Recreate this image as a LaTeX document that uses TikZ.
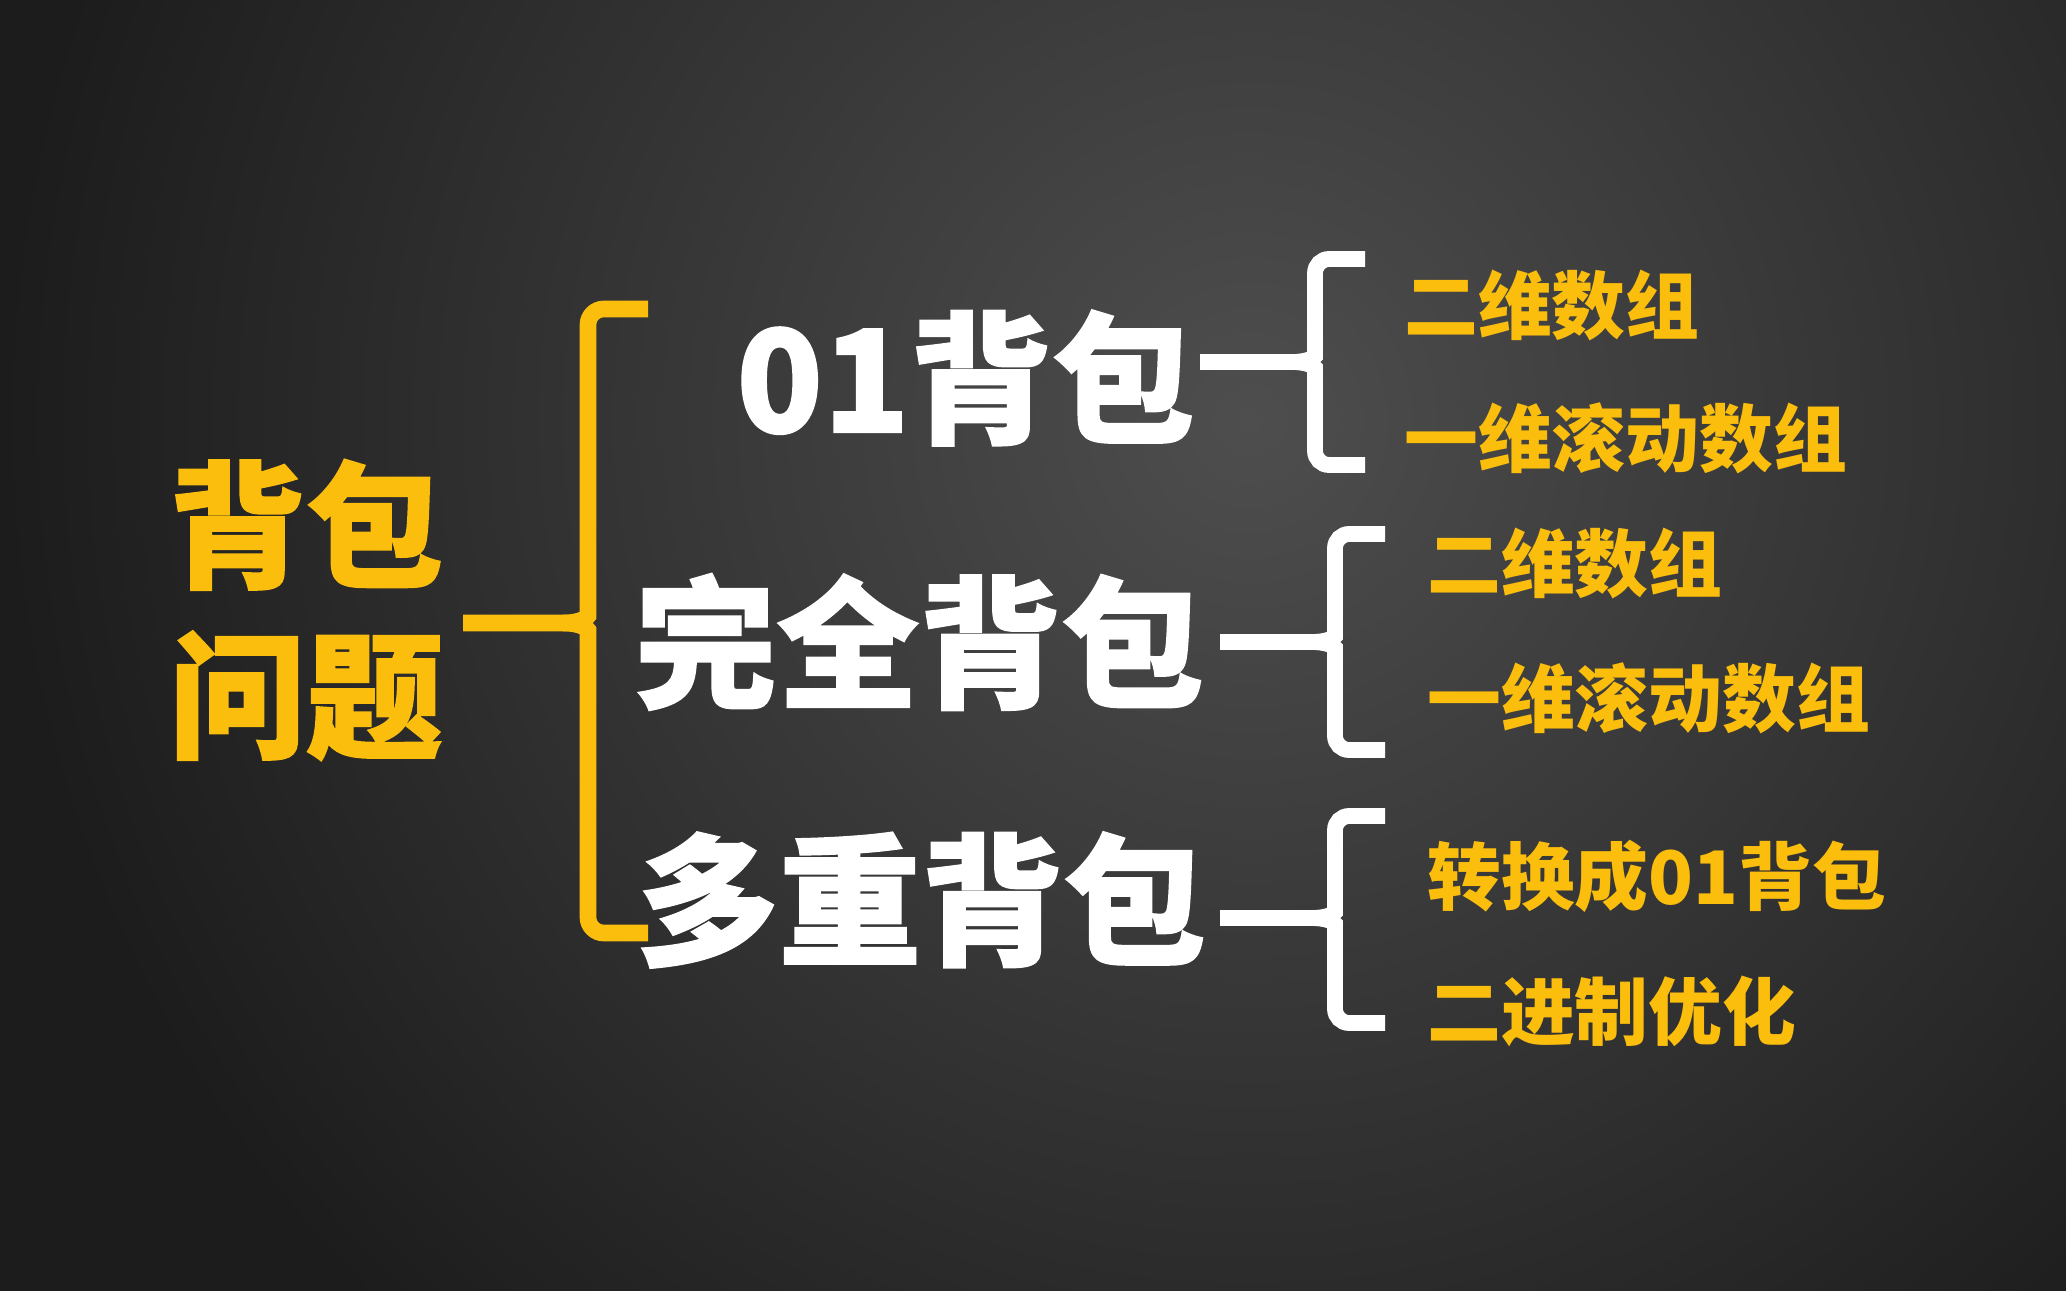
\documentclass[tikz,border=0pt]{standalone}
\usepackage{fontspec}
\usetikzlibrary{positioning}
\newfontfamily\cjk{Noto Sans CJK SC}[BoldFeatures={FakeBold=1.2}]
\newfontfamily\cjklight{Noto Sans CJK SC}
\definecolor{chalkyellow}{RGB}{251,190,12}
\definecolor{boardlight}{RGB}{78,78,78}
\definecolor{boarddark}{RGB}{28,28,28}
\begin{document}
\begin{tikzpicture}[x=0.02cm, y=-0.02cm,
        topic/.style = {text=chalkyellow, inner sep=0pt, align=center,
            font=\cjk\bfseries\fontsize{78pt}{97pt}\selectfont},
        kind/.style = {text=white, inner sep=0pt, anchor=west,
            font=\cjk\bfseries\fontsize{81pt}{81pt}\selectfont},
        way/.style = {text=chalkyellow, inner sep=0pt, anchor=west,
            font=\cjklight\bfseries\fontsize{42pt}{42pt}\selectfont},
        bigbrace/.style = {draw=chalkyellow, line width=9.5pt},
        subbrace/.style = {draw=white, line width=9pt}]
            \useasboundingbox (0,0) rectangle (2066,1291);
            \begin{scope}
                \clip (0,0) rectangle (2066,1291);
                \fill[boarddark] (0,0) rectangle (2066,1291);
                \shade[inner color=boardlight, outer color=boarddark] (1250,420) circle (1250);
            \end{scope}

            \node[topic] (bag) at (306,610) {背包\\问题};

            \node[kind] (zo) at (736,378) {01背包};
            \node[kind] (full) at (634,642) {完全背包};
            \node[kind] (multi) at (636,900) {多重背包};

            \node[way] (zo-a) at (1404,305) {二维数组};
            \node[way] (zo-b) at (1404,438) {一维滚动数组};
            \node[way] (full-a) at (1427,563) {二维数组};
            \node[way] (full-b) at (1427,698) {一维滚动数组};
            \node[way] (multi-a) at (1427,876) {转换成01背包};
            \node[way] (multi-b) at (1427,1011) {二进制优化};

            % braces
            \coordinate (bag-s) at (463,623);
            \draw[bigbrace] (648,309) [rounded corners=9pt] -- (588,309) -- (588,600) [sharp corners] .. controls (588,617) and (581,623) .. (563,623) -- (bag-s);
            \draw[bigbrace] (648,933) [rounded corners=9pt] -- (588,933) -- (588,646) [sharp corners] .. controls (588,629) and (581,623) .. (563,623);

            \coordinate (zo-s) at (1200,362);
            \draw[subbrace] (1365,259) [rounded corners=8pt] -- (1315,259) -- (1315,342) [sharp corners] .. controls (1315,357) and (1308,362) .. (1292,362) -- (zo-s);
            \draw[subbrace] (1365,465) [rounded corners=8pt] -- (1315,465) -- (1315,382) [sharp corners] .. controls (1315,367) and (1308,362) .. (1292,362);

            \coordinate (full-s) at (1220,642);
            \draw[subbrace] (1385,534) [rounded corners=8pt] -- (1335,534) -- (1335,622) [sharp corners] .. controls (1335,637) and (1328,642) .. (1312,642) -- (full-s);
            \draw[subbrace] (1385,750) [rounded corners=8pt] -- (1335,750) -- (1335,662) [sharp corners] .. controls (1335,647) and (1328,642) .. (1312,642);

            \coordinate (multi-s) at (1220,918);
            \draw[subbrace] (1385,816) [rounded corners=8pt] -- (1335,816) -- (1335,898) [sharp corners] .. controls (1335,913) and (1328,918) .. (1312,918) -- (multi-s);
            \draw[subbrace] (1385,1023) [rounded corners=8pt] -- (1335,1023) -- (1335,938) [sharp corners] .. controls (1335,923) and (1328,918) .. (1312,918);

        \end{tikzpicture}
\end{document}
